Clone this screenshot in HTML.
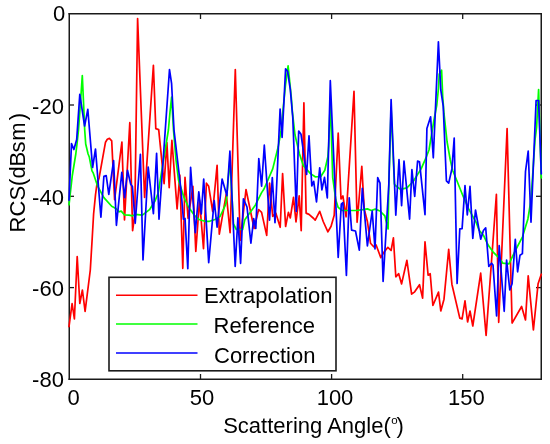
<!DOCTYPE html>
<html><head><meta charset="utf-8"><style>
html,body{margin:0;padding:0;background:#fff;width:550px;height:444px;overflow:hidden}
svg{display:block}
text{font-family:"Liberation Sans",Arial,sans-serif;fill:#000}
</style></head><body>
<svg width="550" height="444" viewBox="0 0 550 444">
<rect width="550" height="444" fill="#fff"/>

<g stroke="#1a1a1a" stroke-width="1.5" fill="none" stroke-linecap="square">
<line x1="69.25" y1="13.75" x2="541.25" y2="13.75"/>
<line x1="69.25" y1="379.2" x2="541.25" y2="379.2"/>
<line x1="69.25" y1="13.75" x2="69.25" y2="379.2"/>
<line x1="541.25" y1="13.75" x2="541.25" y2="379.2"/>
</g>
<g stroke="#1a1a1a" stroke-width="1.3" fill="none">
<line x1="200.5" y1="379.0" x2="200.5" y2="374.0" /><line x1="200.5" y1="14.0" x2="200.5" y2="19.0" /><line x1="331.6" y1="379.0" x2="331.6" y2="374.0" /><line x1="331.6" y1="14.0" x2="331.6" y2="19.0" /><line x1="462.7" y1="379.0" x2="462.7" y2="374.0" /><line x1="462.7" y1="14.0" x2="462.7" y2="19.0" /><line x1="69.0" y1="105.0" x2="74.0" y2="105.0" /><line x1="541.0" y1="105.0" x2="536.0" y2="105.0" /><line x1="69.0" y1="196.3" x2="74.0" y2="196.3" /><line x1="541.0" y1="196.3" x2="536.0" y2="196.3" /><line x1="69.0" y1="287.6" x2="74.0" y2="287.6" /><line x1="541.0" y1="287.6" x2="536.0" y2="287.6" />
</g>
<g clip-path="url(#c)">
<clipPath id="c"><rect x="67" y="11" width="476" height="370"/></clipPath>
<polyline points="69.0,326.6 72.1,303.5 74.4,319.0 77.2,256.5 79.8,303.5 82.4,290.0 85.1,311.4 90.3,270.0 92.1,240.0 93.6,214.0 95.5,194.9 96.8,185.0 99.1,177.9 105.5,142.2 107.3,139.2 109.4,138.4 111.7,140.8 114.6,199.6 121.9,142.0 124.5,219.9 129.8,122.7 132.6,230.7 134.8,215.0 137.6,18.5 144.6,197.5 153.4,65.4 155.8,128.6 158.7,129.6 164.1,183.6 166.9,142.6 169.2,187.6 171.9,140.3 177.1,208.9 179.8,175.0 182.8,268.4 185.0,177.3 188.1,218.4 192.9,186.3 195.8,251.5 199.5,200.0 203.5,248.6 206.4,183.2 208.7,186.3 212.7,211.5 217.1,165.3 219.3,234.2 226.3,194.0 230.1,232.6 235.3,69.5 240.2,240.5 246.0,189.5 254.1,228.5 258.6,209.5 261.6,212.4 266.7,235.4 269.6,183.1 272.7,216.3 275.8,213.1 280.2,227.3 282.6,173.6 285.6,226.5 288.4,212.3 290.3,217.9 293.5,197.4 296.0,221.8 299.2,195.8 301.2,230.7 303.9,102.8 306.1,213.1 309.0,214.4 313.7,218.5 315.2,220.2 319.7,211.3 323.2,221.5 327.9,231.8 331.1,226.3 334.2,215.2 338.2,133.2 341.0,199.0 342.9,196.0 346.1,216.8 354.0,91.3 357.1,222.3 361.8,166.3 364.2,208.9 367.4,221.5 370.5,243.2 373.7,246.8 376.1,245.0 380.8,257.6 384.0,252.1 387.9,247.3 391.1,250.5 393.4,237.9 395.8,276.8 398.7,273.7 401.6,283.9 406.9,260.3 411.6,294.2 414.7,291.8 419.5,284.7 422.6,298.1 425.0,241.8 428.1,275.2 430.2,273.7 432.9,305.5 438.5,292.1 440.8,311.0 444.0,299.2 448.7,249.4 451.9,284.2 459.8,318.1 462.1,318.9 465.0,300.8 467.6,322.0 470.0,311.0 472.8,326.0 480.7,273.2 486.1,335.5 496.4,194.4 498.7,322.3 507.1,128.6 512.1,323.1 521.6,306.5 525.5,320.0 528.2,275.8 533.4,330.0 538.1,283.7 541.3,274.2" fill="none" stroke="#ff0000" stroke-width="1.7" stroke-linejoin="round" stroke-linecap="round"/>
<polyline points="69.0,204.8 72.3,175.5 75.8,154.0 77.0,144.0 78.5,130.0 80.3,105.0 82.3,75.5 84.1,115.5 84.7,130.0 85.7,144.0 88.1,154.0 89.3,157.0 92.0,170.8 93.3,173.2 97.5,185.8 103.9,197.6 111.7,206.3 115.8,208.4 119.1,211.8 121.2,211.1 124.5,214.9 129.0,215.2 132.6,215.8 135.3,214.4 142.4,215.2 149.5,209.7 155.0,201.0 158.2,193.0 168.4,130.0 170.0,112.0 171.6,97.0 173.5,130.0 176.0,160.0 178.5,180.0 181.0,188.0 184.2,198.0 188.5,207.0 194.5,215.5 199.0,219.5 204.8,221.3 209.5,221.3 215.0,219.5 220.0,216.5 225.0,206.0 226.2,202.3 229.9,160.0 233.5,224.0 236.3,229.5 242.6,229.5 244.8,219.7 248.8,214.3 255.3,205.2 261.6,192.6 264.0,189.0 267.9,180.0 272.7,168.9 278.2,146.8 281.3,129.5 283.0,110.0 285.5,85.0 288.1,65.8 291.3,97.3 292.4,112.0 295.0,135.0 299.5,153.9 303.4,165.7 310.5,173.6 315.2,176.8 320.8,176.5 324.8,170.2 327.9,156.8 328.7,145.8 330.3,100.0 332.7,177.3 335.8,200.0 338.2,207.4 342.1,210.5 356.3,210.5 362.6,209.7 367.4,208.9 371.3,210.5 375.3,209.1 380.0,211.0 384.8,215.8 388.1,229.0 388.8,186.0 391.1,108.0 394.4,184.0 395.4,185.5 400.5,189.4 406.9,187.9 413.2,181.5 421.1,168.9 426.6,156.3 429.0,150.0 433.7,121.5 436.8,105.0 438.5,88.0 439.2,74.2 441.6,70.2 442.7,96.2 444.0,113.7 447.1,142.0 450.3,160.0 452.7,170.5 456.6,180.0 462.9,195.7 468.4,208.4 474.0,218.6 476.3,222.6 479.0,230.0 483.4,235.2 486.9,242.6 489.0,246.3 493.2,252.1 499.5,258.4 502.7,263.1 509.0,263.9 515.3,250.5 522.4,237.1 527.9,218.9 531.0,200.0 535.0,140.0 536.6,127.3 538.6,89.5 541.3,178.0" fill="none" stroke="#00ff00" stroke-width="1.7" stroke-linejoin="round" stroke-linecap="round"/>
<polyline points="69.0,200.2 71.5,143.6 73.9,149.5 76.7,139.5 79.8,94.4 84.6,126.0 87.8,109.3 92.6,167.5 95.5,149.0 100.9,217.2 103.9,176.3 106.2,175.5 108.8,194.3 113.6,160.7 116.4,225.3 121.8,172.4 124.6,197.6 127.5,170.3 130.7,184.2 132.4,186.4 135.2,223.3 140.4,154.4 143.0,260.0 148.2,167.0 153.4,213.7 156.6,153.3 159.0,219.2 169.5,69.5 171.6,83.7 174.0,130.0 181.0,190.0 183.4,219.2 185.0,218.4 187.8,268.7 190.6,167.3 195.3,232.6 198.8,191.8 201.3,213.9 203.7,179.1 208.7,262.6 214.2,200.5 217.1,227.1 222.1,179.1 226.9,195.8 229.9,151.2 235.2,266.5 237.9,217.9 240.6,263.4 243.4,198.9 247.0,207.0 250.9,243.1 253.7,218.6 255.8,228.5 258.8,158.6 261.6,186.2 264.3,145.2 269.5,220.2 272.3,177.6 275.0,222.6 280.1,109.1 282.1,137.4 285.6,68.9 287.6,71.3 290.3,89.4 292.8,118.0 296.3,211.5 298.7,131.0 301.0,134.2 306.6,174.4 309.0,135.8 311.8,186.0 313.7,181.3 316.5,202.0 319.7,167.9 321.9,189.9 324.5,177.3 327.3,198.0 330.3,80.7 338.2,257.4 341.3,204.2 342.9,202.6 346.4,275.5 349.2,197.9 351.6,230.2 355.5,231.0 359.3,250.1 362.3,188.4 367.4,246.0 372.2,211.0 375.0,248.9 377.7,177.6 380.0,183.1 383.1,281.4 388.8,185.0 391.1,99.5 395.8,215.2 399.0,159.5 401.6,205.7 404.0,161.0 409.6,219.2 411.9,169.7 414.7,196.5 417.6,161.0 419.5,161.8 425.0,214.7 426.9,128.4 430.6,116.8 433.3,157.8 438.4,41.8 440.8,90.0 443.2,105.8 446.4,180.8 448.7,183.1 451.9,168.9 454.2,138.1 457.1,283.4 459.8,228.9 462.1,228.6 465.0,185.5 467.3,215.0 470.0,186.3 472.8,238.4 475.5,210.0 480.7,239.2 483.4,230.5 485.7,227.8 488.8,266.5 491.6,263.2 493.0,265.0 496.6,316.0 499.2,245.7 504.2,311.3 506.6,260.0 509.8,290.0 512.1,283.7 515.3,239.4 517.6,271.8 520.0,255.2 522.4,253.6 525.5,171.5 528.2,151.0 531.0,222.1 536.1,100.5 538.6,100.5 541.3,173.9" fill="none" stroke="#0000ff" stroke-width="1.7" stroke-linejoin="round" stroke-linecap="round"/>
</g>
<g font-size="22">
<text transform="translate(59,21.30) scale(1,1.0)" text-anchor="middle">0</text>
<text transform="translate(48,113.50) scale(1,1.0)" text-anchor="middle">-20</text>
<text transform="translate(48,204.80) scale(1,1.0)" text-anchor="middle">-40</text>
<text transform="translate(48,296.00) scale(1,1.0)" text-anchor="middle">-60</text>
<text transform="translate(48,387.20) scale(1,1.0)" text-anchor="middle">-80</text>
<text transform="translate(73.5,405.30) scale(1,1.0)" text-anchor="middle">0</text>
<text transform="translate(202,405.30) scale(1,1.0)" text-anchor="middle">50</text>
<text transform="translate(335,405.30) scale(1,1.0)" text-anchor="middle">100</text>
<text transform="translate(466.3,405.30) scale(1,1.0)" text-anchor="middle">150</text>
<text transform="translate(223.2,432.70) scale(1,1.0)">Scattering Angle(<tspan font-size="11.5" dy="-8.3" dx="0.6">o</tspan><tspan dy="8.3" dx="-1.2">)</tspan></text>
<text transform="translate(25.4,232.4) rotate(-90)">RCS(dB<tspan dx="-0.8">s</tspan><tspan dx="0.8">m</tspan><tspan dx="2.1">)</tspan></text>
</g>
<g>
<rect x="109" y="277.3" width="227" height="93.5" fill="#fff" stroke="#1a1a1a" stroke-width="1.6"/>
<line x1="116" y1="295.2" x2="197.5" y2="295.2" stroke="#ff0000" stroke-width="1.5"/>
<line x1="116" y1="324.1" x2="197.5" y2="324.1" stroke="#00ff00" stroke-width="1.5"/>
<line x1="116" y1="353.1" x2="197.5" y2="353.1" stroke="#0000ff" stroke-width="1.5"/>
<g font-size="22">
<text transform="translate(204,303.30) scale(1,1.0)">Extrapolation</text>
<text transform="translate(213.5,333.30) scale(1,1.0)">Reference</text>
<text transform="translate(214,362.50) scale(1,1.0)">Correction</text>
</g>
</g>
</svg>
</body></html>
